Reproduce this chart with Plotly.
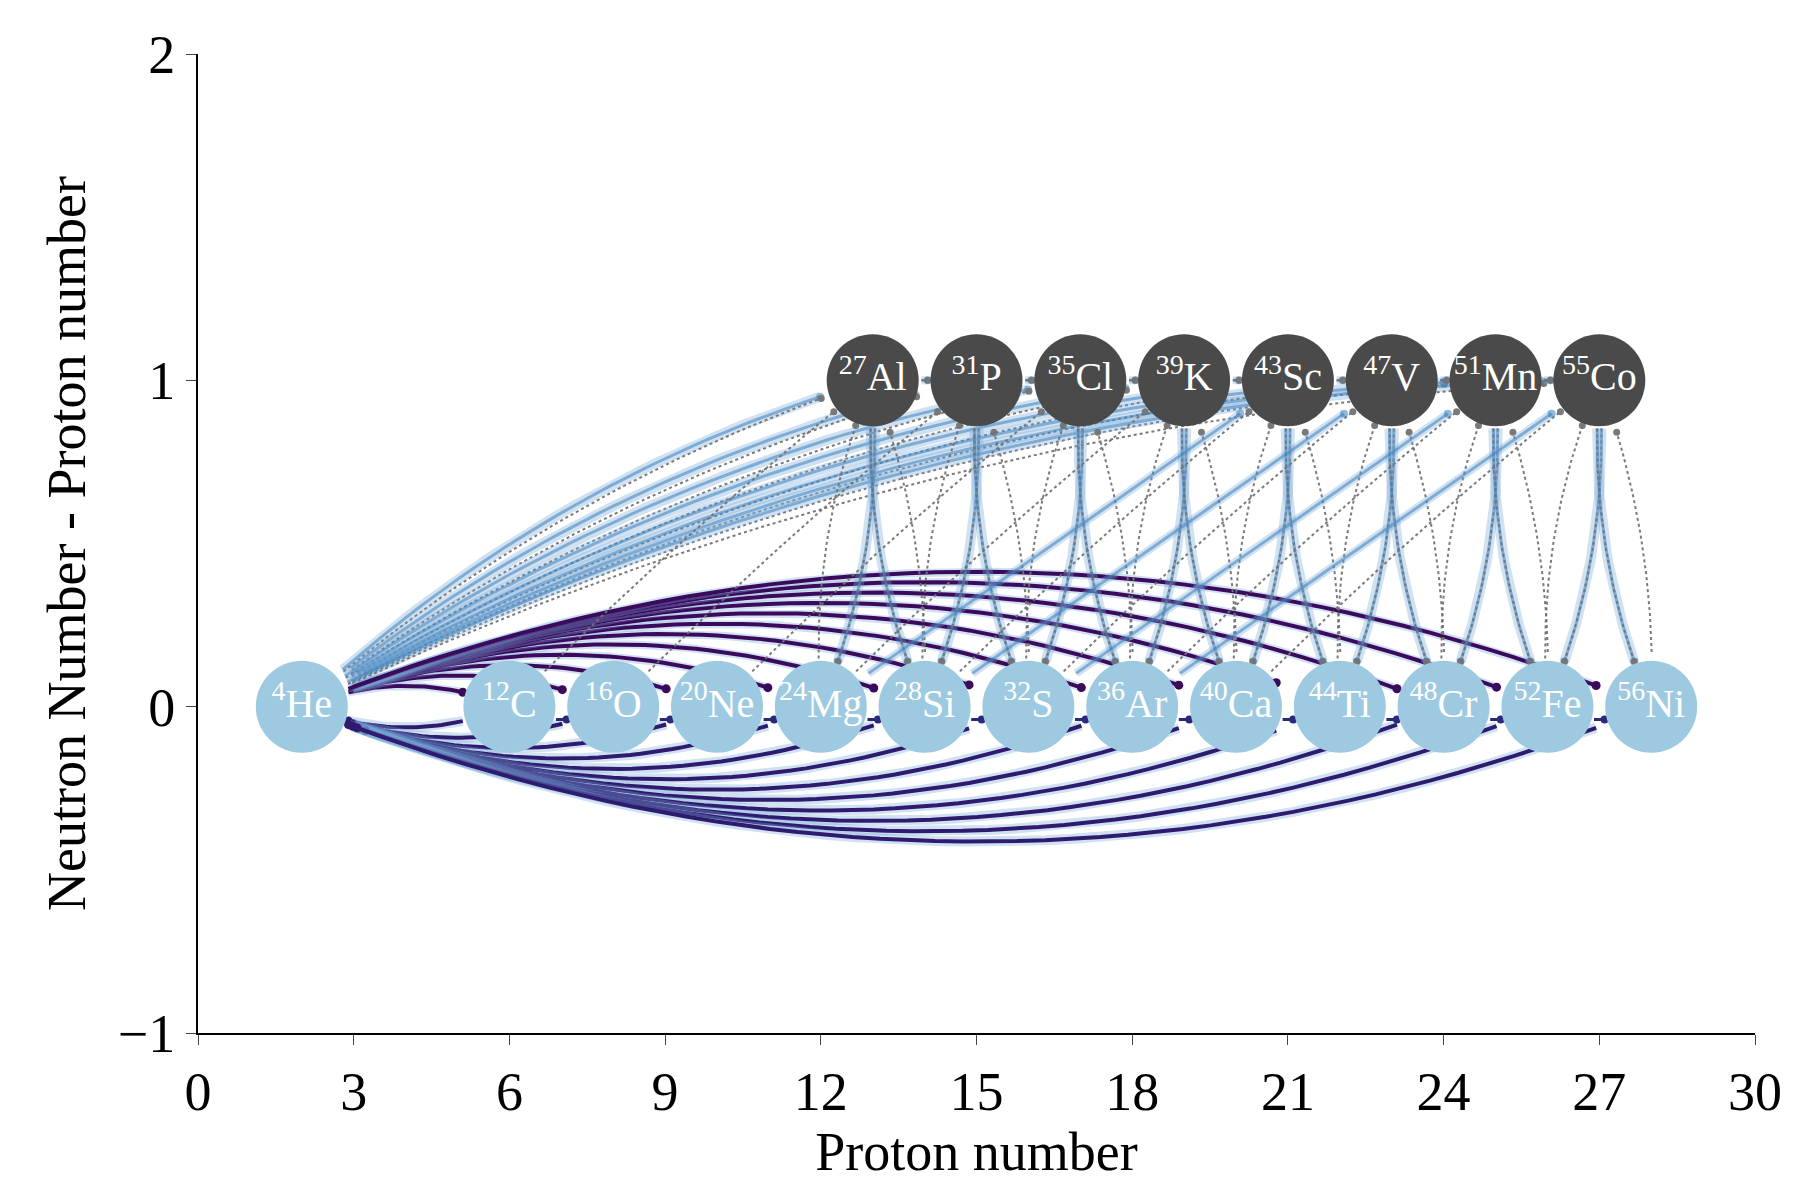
import numpy as np
import plotly.graph_objects as go

# alpha-chain nuclei (y = 0) and odd-Z nuclei (y = 1)
alpha_names = ['He', 'C', 'O', 'Ne', 'Mg', 'Si', 'S', 'Ar', 'Ca', 'Ti', 'Cr', 'Fe', 'Ni']
alpha_A = [4, 12, 16, 20, 24, 28, 32, 36, 40, 44, 48, 52, 56]
alpha_Z = [2, 6, 8, 10, 12, 14, 16, 18, 20, 22, 24, 26, 28]
odd_names = ['Al', 'P', 'Cl', 'K', 'Sc', 'V', 'Mn', 'Co']
odd_A = [27, 31, 35, 39, 43, 47, 51, 55]
odd_Z = [13, 15, 17, 19, 21, 23, 25, 27]
odd_NZ = [1] * 8

W, H = 1793, 1193
ML, MR, MT, MB = 190, 46, 46, 168
XR, YR = (0, 30), (-1, 2)
sx = (W - ML - MR) / (XR[1] - XR[0])
sy = (H - MT - MB) / (YR[1] - YR[0])
NODE_R = 48


def arc(p0, p1, rad, n=50, shrink=NODE_R):
    # quadratic bezier computed in pixel space, returned in data space
    a = np.array([p0[0] * sx, p0[1] * sy])
    b = np.array([p1[0] * sx, p1[1] * sy])
    d = b - a
    L = np.hypot(*d)
    perp = np.array([-d[1], d[0]]) / L
    c = (a + b) / 2 + perp * rad * L
    t = np.linspace(0, 1, n)[:, None]
    pts = (1 - t) ** 2 * a + 2 * (1 - t) * t * c + t ** 2 * b
    dist0 = np.hypot(*(pts - a).T)
    dist1 = np.hypot(*(pts - b).T)
    pts = pts[(dist0 > shrink) & (dist1 > shrink)]
    return pts[:, 0] / sx, pts[:, 1] / sy


fig = go.Figure()


def edge(p0, p1, rad, color, width, dash='solid', halo=None, halo_w=10):
    x, y = arc(p0, p1, rad)
    if halo:
        fig.add_trace(go.Scatter(x=x, y=y, mode='lines', line=dict(color=halo, width=halo_w),
                                 hoverinfo='skip', showlegend=False))
    fig.add_trace(go.Scatter(x=x, y=y, mode='lines', line=dict(color=color, width=width, dash=dash),
                             hoverinfo='skip', showlegend=False))
    # small arrow head
    fig.add_trace(go.Scatter(x=[x[-1]], y=[y[-1]], mode='markers',
                             marker=dict(color=color, size=width + 5, symbol='circle'),
                             hoverinfo='skip', showlegend=False))


he = (alpha_Z[0], 0)
halo = 'rgba(120,170,215,0.35)'
purple = '#3b0a5c'
grey = 'rgba(115,115,115,0.95)'
blue = 'rgba(60,130,190,0.55)'

# He -> odd nuclei (upper light blue arcs)
for z, nz in zip(odd_Z, odd_NZ):
    edge(he, (z, nz), 0.12, blue, 3, halo=halo, halo_w=10)
    edge(he, (z, nz), 0.1, grey, 2, dash='dot')

# He <-> alpha nuclei arcs
for z in alpha_Z[1:]:
    edge((z, 0), he, 0.2, '#2e1a6e', 4, halo=halo, halo_w=10)
    edge(he, (z, 0), 0.2, purple, 4, halo=halo, halo_w=8)

# neighbouring alpha nuclei
for z0, z1 in zip(alpha_Z[1:-1], alpha_Z[2:]):
    edge((z0, 0), (z1, 0), -0.25, '#2a2a7a', 3)

# odd nuclei <-> neighbouring alpha nuclei
for z, nz in zip(odd_Z, odd_NZ):
    lo, hi = (z - 1, 0), (z + 1, 0)
    edge((z, nz), lo, 0.12, blue, 3, halo=halo, halo_w=10)
    edge((z, nz), lo, 0.12, grey, 2, dash='dot')
    edge(lo, (z, nz), 0.12, grey, 2, dash='dot')
    edge((z, nz), hi, -0.12, blue, 3, halo=halo, halo_w=10)
    edge((z, nz), hi, -0.12, grey, 2, dash='dot')
    edge(hi, (z, nz), -0.1, grey, 2, dash='dot')

# long diagonal links
for z, nz in zip(odd_Z, odd_NZ):
    src = max(z - 7, 6)
    edge((src, 0), (z, nz), 0.03, grey, 2, dash='dot')
for z, nz in zip(odd_Z[-4:], odd_NZ[-4:]):
    edge((z - 9, 0), (z, nz), 0.0, blue, 3, halo=halo, halo_w=8)

# horizontal links along odd row
for z0, z1 in zip(odd_Z[:-1], odd_Z[1:]):
    edge((z0, 1), (z1, 1), 0.0, blue, 3, halo=halo, halo_w=8)
    edge((z0, 1), (z1, 1), 0.0, grey, 2, dash='dot')

# nodes
fig.add_trace(go.Scatter(
    x=alpha_Z, y=[0] * len(alpha_Z), mode='markers+text',
    marker=dict(size=92, color='#9ecae1'),
    text=[f'<sup>{a}</sup>{n}' for a, n in zip(alpha_A, alpha_names)],
    textfont=dict(color='white', size=40, family='Liberation Serif'),
    textposition='middle center', hoverinfo='skip', showlegend=False))
fig.add_trace(go.Scatter(
    x=odd_Z, y=odd_NZ, mode='markers+text',
    marker=dict(size=92, color='#4a4a4a'),
    text=[f'<sup>{a}</sup>{n}' for a, n in zip(odd_A, odd_names)],
    textfont=dict(color='white', size=40, family='Liberation Serif'),
    textposition='middle center', hoverinfo='skip', showlegend=False))

font = dict(family='Liberation Serif', size=54, color='black')
fig.update_layout(
    width=W, height=H, margin=dict(l=ML, r=MR, t=MT, b=MB),
    plot_bgcolor='white', paper_bgcolor='white', font=font,
    xaxis=dict(range=XR, tickvals=list(range(0, 31, 3)), showgrid=False, zeroline=False,
               showline=True, linecolor='black', linewidth=2, ticks='outside', ticklen=10,
               title=dict(text='Proton number', font=font, standoff=5)),
    yaxis=dict(range=YR, tickvals=[-1, 0, 1, 2], ticktext=['\u22121', '0', '1', '2'],
               showgrid=False, zeroline=False, showline=True, linecolor='black', linewidth=2,
               ticks='outside', ticklen=10,
               title=dict(text='Neutron Number - Proton number', font=font, standoff=15)),
)

fig.write_html("out.html")
